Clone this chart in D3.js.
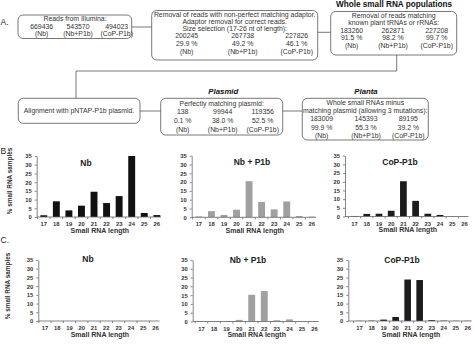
<!DOCTYPE html>
<html>
<head>
<meta charset="utf-8">
<script src="https://cdn.jsdelivr.net/npm/d3@7"></script>
<style>
  body { margin: 0; background: #fff; }
  svg { display: block; font-family: "Liberation Sans", Arial, sans-serif; }
</style>
</head>
<body>
<script>
// --- data ---
var lengths = ["17", "18", "19", "20", "21", "22", "23", "24", "25", "26"];
var samples = ["(Nb)", "(Nb+P1b)", "(CoP-P1b)"];

var illuminaReads = ["669436", "543570", "494023"];
var sizeSelected = ["200245", "267738", "227826"];
var sizeSelectedPct = ["29.9 %", "49.2 %", "46.1 %"];
var noRRNA = ["183260", "262871", "227208"];
var noRRNAPct = ["91.5 %", "98.2 %", "99.7 %"];
var plasmidReads = ["138", "99944", "119356"];
var plasmidPct = ["0.1 %", "38.0 %", "52.5 %"];
var plantaReads = ["183009", "145393", "89195"];
var plantaPct = ["99.9 %", "55.3 %", "39.2 %"];

// % small RNA by length, B = whole populations, C = plasmid-derived
var wholeNb     = [1.0, 9.0, 3.8, 6.5, 14.5, 8.0, 12.0, 35.0, 2.3, 1.1];
var wholeNbP1b  = [0.5, 3.5, 1.3, 4.3, 20.5, 8.7, 4.5, 9.0, 0.7, 0.4];
var wholeCoP    = [0.3, 1.5, 1.6, 3.3, 20.3, 9.0, 1.6, 0.9, 0.1, 0.1];
var plasNb      = [0, 0, 0, 0, 0, 0, 0, 0, 0, 0];
var plasNbP1b   = [0.2, 0.2, 0.3, 0.9, 15.2, 17.3, 0.7, 1.2, 0.1, 0.1];
var plasCoP     = [0.1, 0.2, 0.8, 2.3, 23.8, 23.5, 0.5, 0.2, 0.1, 0.1];
var yTicks = [0, 5, 10, 15, 20, 25, 30, 35];

var W = 474, H = 345;
var svg = d3.select("body").append("svg").attr("width", W).attr("height", H);
svg.append("rect").attr("width", W).attr("height", H).attr("fill", "#fff");

var txt = "#333", fs = 6.9;

function label(x, y, s, opts) {
    opts = opts || {};
    return svg.append("text")
        .attr("x", x).attr("y", y)
        .attr("text-anchor", opts.anchor || "middle")
        .attr("dominant-baseline", "middle")
        .attr("font-size", (opts.size || fs) + "px")
        .attr("font-weight", opts.weight || "normal")
        .attr("font-style", opts.style || "normal")
        .attr("fill", opts.fill || txt)
        .text(s);
}

function box(x, y, w, h) {
    svg.append("rect").attr("x", x).attr("y", y).attr("width", w).attr("height", h)
        .attr("rx", 5).attr("fill", "#fff").attr("stroke", "#555").attr("stroke-width", 0.8);
}

function columns(xs, y, vals) {
    vals.forEach(function(v, i) { label(xs[i], y, v); });
}

// --- connectors ---
var line = d3.line();
svg.append("g").attr("fill", "none").attr("stroke", "#555").attr("stroke-width", 0.8)
    .selectAll("path")
    .data([
        [[131, 27], [152, 27]],
        [[317, 32.3], [331, 32.3]],
        [[396.7, 55], [396.7, 71], [76, 71], [76, 98.3]],
        [[140, 111], [161, 111]],
        [[282.7, 111], [302.3, 111]]
    ])
    .join("path").attr("d", line);

// --- flowchart ---
label(0.5, 23, "A.", { size: 8.5, anchor: "start", fill: "#222" });

box(18, 15, 113.7, 23.5);
label(75, 18.8, "Reads from Illumina:");
columns([41.7, 78, 116.7], 27, illuminaReads);
columns([41.7, 78, 116.7], 34.4, samples);

box(151.7, 10.5, 166, 49.5);
label(234.7, 15, "Removal of reads with non-perfect matching adaptor.");
label(234.7, 22.3, "Adaptor removal for correct reads.");
label(234.7, 29.4, "Size selection (17-26 nt of length):");
columns([186.7, 242.7, 296.7], 36.3, sizeSelected);
columns([186.7, 242.7, 296.7], 44, sizeSelectedPct);
columns([186.7, 242.7, 296.7], 52.3, samples);

label(394, 5, "Whole small RNA populations", { size: 8.2, weight: "bold", fill: "#111" });
box(330.7, 11.5, 126, 43.5);
label(393.7, 15.8, "Removal of reads matching");
label(393.7, 23.3, "known plant tRNAs or rRNAs:");
columns([351.7, 393, 436.7], 31, noRRNA);
columns([351.7, 393, 436.7], 38.3, noRRNAPct);
columns([351.7, 393, 436.7], 45.7, samples);

box(18.3, 98.3, 121.7, 25);
label(79, 111, "Alignment with pNTAP-P1b plasmid.");

label(223.3, 91.7, "Plasmid", { size: 7.8, weight: "bold", style: "italic", fill: "#111" });
box(160.7, 98.3, 122, 36.7);
label(221.7, 104.3, "Perfectly matching plasmid:");
columns([182.7, 222.7, 262.7], 112.3, plasmidReads);
columns([182.7, 222.7, 262.7], 121, plasmidPct);
columns([182.7, 222.7, 262.7], 129.8, samples);

label(366, 92, "Planta", { size: 7.8, weight: "bold", style: "italic", fill: "#111" });
box(302.3, 98.3, 126, 41.7);
label(365.3, 103.3, "Whole small RNAs minus");
label(365.3, 111.5, "matching plasmid (allowing 3 mutations):");
columns([321.7, 366, 408.3], 119.4, plantaReads);
columns([321.7, 366, 408.3], 127.7, plantaPct);
columns([321.7, 366, 408.3], 135.9, samples);

// --- bar charts ---
function chart(values, color, title, L) {
    var step = (L.c26 - L.c17) / 9;
    var x = d3.scaleBand().domain(lengths)
        .range([L.c17 - step / 2, L.c26 + step / 2]).paddingInner(0.5).paddingOuter(0);
    var y = d3.scaleLinear().domain([0, 35]).range([L.y0, L.y35]);
    var g = svg.append("g");

    g.selectAll("rect.bar").data(values).join("rect")
        .attr("class", "bar")
        .attr("x", function(d, i) { return x(lengths[i]) - x.bandwidth() * 0.05; })
        .attr("width", x.bandwidth() * 1.1)
        .attr("y", function(d) { return y(d); })
        .attr("height", function(d) { return L.y0 - y(d); })
        .attr("fill", color);

    var ya = g.append("g").attr("transform", "translate(" + L.ax + ",0)")
        .call(d3.axisLeft(y).tickValues(yTicks).tickSize(2).tickSizeOuter(0).tickPadding(3));
    ya.select(".domain").attr("stroke", "#666").attr("stroke-width", 0.8);
    ya.selectAll(".tick line").attr("stroke", "#666").attr("stroke-width", 0.8);
    ya.selectAll("text").attr("font-size", "5.8px").attr("font-weight", "bold")
        .attr("fill", "#333").attr("font-family", "Liberation Sans, Arial, sans-serif");

    // x baseline with small ticks between categories
    var xEnd = L.c26 + step / 2 + 1;
    g.append("line").attr("x1", L.ax).attr("x2", xEnd).attr("y1", L.y0).attr("y2", L.y0)
        .attr("stroke", "#666").attr("stroke-width", 0.8);
    g.selectAll("line.sep").data(lengths).join("line").attr("class", "sep")
        .attr("x1", function(d) { return x(d) - x.step() * 0.25; })
        .attr("x2", function(d) { return x(d) - x.step() * 0.25; })
        .attr("y1", L.y0).attr("y2", L.y0 + 2)
        .attr("stroke", "#666").attr("stroke-width", 0.8);

    g.selectAll("text.xl").data(lengths).join("text").attr("class", "xl")
        .attr("x", function(d) { return x(d) + x.bandwidth() / 2; })
        .attr("y", L.y0 + 7.5)
        .attr("text-anchor", "middle").attr("dominant-baseline", "middle")
        .attr("font-size", "5.8px").attr("font-weight", "bold").attr("fill", "#333")
        .text(function(d) { return d; });

    g.append("text").attr("x", (L.ax + xEnd) / 2 + 1).attr("y", L.y0 + 13.8)
        .attr("text-anchor", "middle").attr("dominant-baseline", "middle")
        .attr("font-size", "7px").attr("font-weight", "bold").attr("fill", "#333")
        .text("Small RNA length");

    g.append("text").attr("x", L.tx).attr("y", L.ty)
        .attr("text-anchor", "middle").attr("dominant-baseline", "middle")
        .attr("font-size", "8.5px").attr("font-weight", "bold").attr("fill", "#222")
        .text(title);

    if (L.ylab) {
        g.append("text")
            .attr("transform", "translate(" + L.lx + "," + L.ly + ") rotate(-90)")
            .attr("text-anchor", "middle").attr("dominant-baseline", "middle")
            .attr("font-size", "6.4px").attr("font-weight", "bold").attr("fill", "#333")
            .text("% small RNA samples");
    }
}

label(0.5, 152, "B.", { size: 8.5, anchor: "start", fill: "#222" });
label(0.5, 241, "C.", { size: 8.5, anchor: "start", fill: "#222" });

chart(wholeNb, "#111", "Nb", { ax: 36.7, c17: 46.6, c26: 154, y0: 217, y35: 156, tx: 86, ty: 164, ylab: true, lx: 10, ly: 181 });
chart(wholeNbP1b, "#a0a0a0", "Nb + P1b", { ax: 191.7, c17: 201.7, c26: 309, y0: 217.3, y35: 155.7, tx: 252, ty: 163 });
chart(wholeCoP, "#1c1c1c", "CoP-P1b", { ax: 345, c17: 357.3, c26: 461.7, y0: 216.5, y35: 155.7, tx: 400, ty: 163 });

chart(plasNb, "#111", "Nb", { ax: 38.3, c17: 47.7, c26: 152.7, y0: 321, y35: 260, tx: 88, ty: 260, ylab: true, lx: 8, ly: 286 });
chart(plasNbP1b, "#a0a0a0", "Nb + P1b", { ax: 192.7, c17: 204.3, c26: 311.7, y0: 321.5, y35: 260, tx: 248, ty: 261 });
chart(plasCoP, "#1c1c1c", "CoP-P1b", { ax: 348.3, c17: 362.3, c26: 465, y0: 321, y35: 260, tx: 402, ty: 261 });
</script>
</body>
</html>
